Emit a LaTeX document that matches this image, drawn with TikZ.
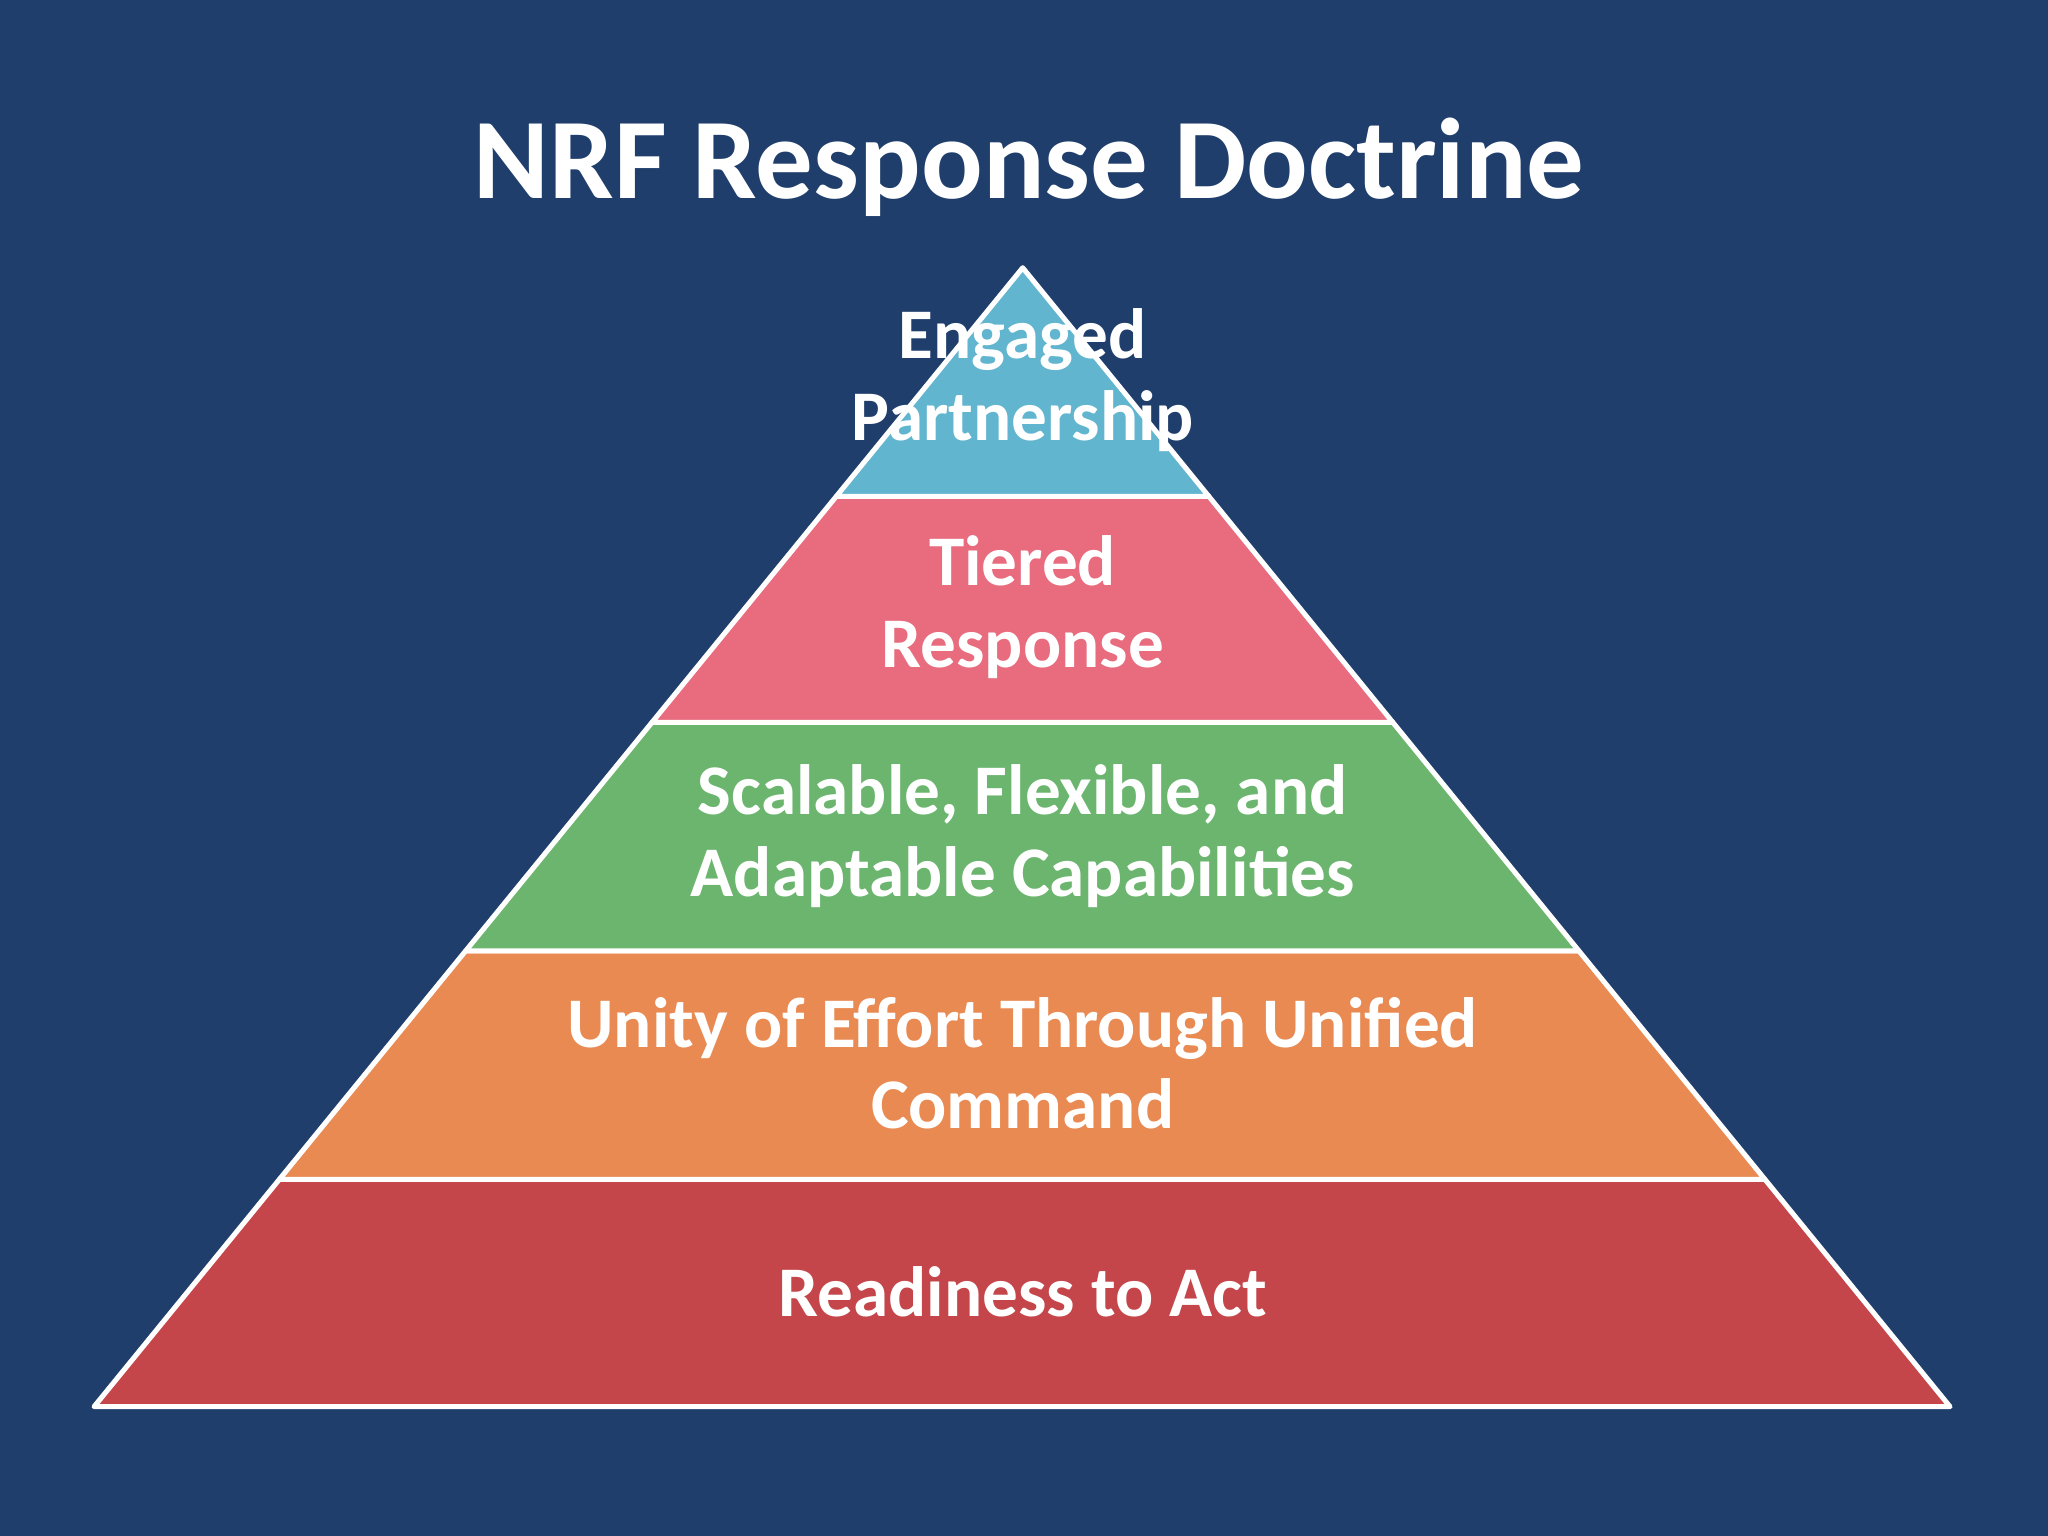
\documentclass[tikz,border=0pt]{standalone}
\usepackage{fontspec}
\setmainfont{Carlito}
\begin{document}
\begin{tikzpicture}[x=0.01cm,y=-0.01cm,
  band/.style={draw=white,line width=1.1pt,line join=round},
  lbl/.style={text=white,font=\bfseries\fontsize{15.5}{17.8}\selectfont,align=center}]
\fill[fill={rgb,255:red,31;green,62;blue,108}] (0,0) rectangle (1568,1176);
\useasboundingbox (0,0) rectangle (1568,1176);
\coordinate (A) at (783,205);
\def\xl#1{783-(#1-205)*0.8154}
\def\xr#1{783+(#1-205)*0.8142}
\fill[band,fill={rgb,255:red,197;green,70;blue,74}] ({\xl{903}},903) -- (72,1077) -- (1493,1077) -- ({\xr{903}},903) -- cycle;
\fill[band,fill={rgb,255:red,232;green,138;blue,82}] ({\xl{728}},728) -- ({\xl{903}},903) -- ({\xr{903}},903) -- ({\xr{728}},728) -- cycle;
\fill[band,fill={rgb,255:red,107;green,181;blue,110}] ({\xl{553}},553) -- ({\xl{728}},728) -- ({\xr{728}},728) -- ({\xr{553}},553) -- cycle;
\fill[band,fill={rgb,255:red,232;green,107;blue,126}] ({\xl{380}},380) -- ({\xl{553}},553) -- ({\xr{553}},553) -- ({\xr{380}},380) -- cycle;
\fill[band,fill={rgb,255:red,98;green,181;blue,207}] (A) -- ({\xl{380}},380) -- ({\xr{380}},380) -- cycle;
\node[text=white,font=\bfseries\fontsize{25}{30}\selectfont] (title) at (788,128) {NRF Response Doctrine};
\node[lbl] (t1) at (783,291) {Engaged\\Partnership};
\node[lbl] (t2) at (783,465) {Tiered\\Response};
\node[lbl] (t3) at (783,640) {Scalable, Flexible, and\\Adaptable Capabilities};
\node[lbl] (t4) at (783,814) {Unity of Effort Through Unified\\Command};
\node[lbl] (t5) at (783,989) {Readiness to Act};
\end{tikzpicture}
\end{document}
